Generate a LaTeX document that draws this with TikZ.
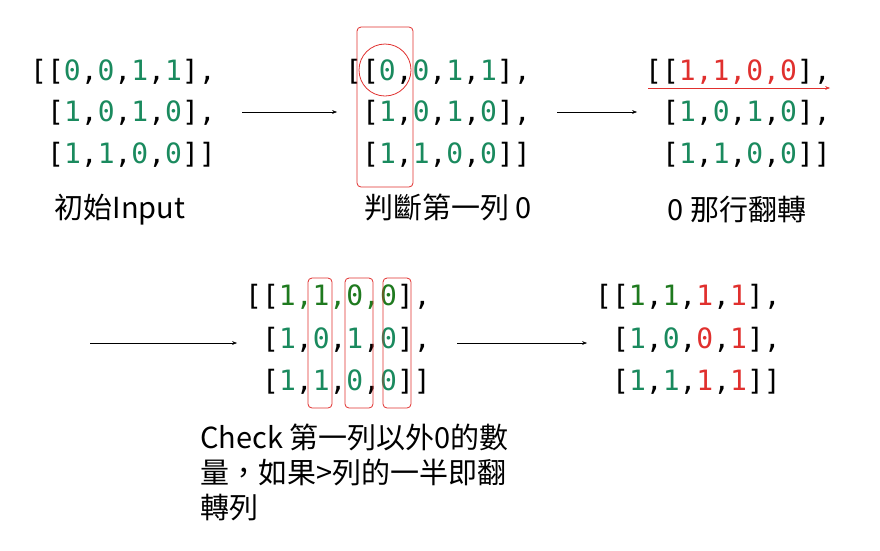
\documentclass[tikz,border=0pt]{standalone}
\usepackage{fontspec}
\setmainfont{Noto Sans CJK TC}
\newfontfamily\matfont{DejaVu Sans Mono}
\usetikzlibrary{positioning,arrows.meta}
\definecolor{tealg}{HTML}{1A8A5E}
\definecolor{darkg}{HTML}{1F7A1F}
\definecolor{redd}{HTML}{E0302E}
\newcommand{\tg}[1]{\textcolor{tealg}{#1}}
\newcommand{\dg}[1]{\textcolor{darkg}{#1}}
\newcommand{\rd}[1]{\textcolor{redd}{#1}}
\begin{document}
\begin{tikzpicture}[x=1pt,y=-1pt,
        row/.style={anchor=west, inner sep=0pt, font=\matfont\fontsize{28}{28}\selectfont},
        lab/.style={anchor=center, inner sep=0pt, font=\fontsize{29}{35}\selectfont},
        flow/.style={-Stealth, thin},
        redbox/.style={draw=redd, thick, rounded corners=4pt}
    ]
        \useasboundingbox (0,0) rectangle (880,550);
        % first matrix
        \node[row] (m1a) at (30,72)  {[[\tg{0},\tg{0},\tg{1},\tg{1}],};
        \node[row] (m1b) at (47,113) {[\tg{1},\tg{0},\tg{1},\tg{0}],};
        \node[row] (m1c) at (47,155) {[\tg{1},\tg{1},\tg{0},\tg{0}]]};
        \node[lab] (l1) at (120,210) {初始Input};
        % second matrix
        \node[row] (m2a) at (345,72)  {[[\tg{0},\tg{0},\tg{1},\tg{1}],};
        \node[row] (m2b) at (362,113) {[\tg{1},\tg{0},\tg{1},\tg{0}],};
        \node[row] (m2c) at (362,155) {[\tg{1},\tg{1},\tg{0},\tg{0}]]};
        \node[lab] (l2) at (448,207) {判斷第一列 0};
        \draw[redbox] (357,27) rectangle (413,187);
        \draw[redd, thick] (385,70) circle (26);
        % third matrix
        \node[row] (m3a) at (645,72)  {[[\rd{1,1,0,0}],};
        \node[row] (m3b) at (662,113) {[\tg{1},\tg{0},\tg{1},\tg{0}],};
        \node[row] (m3c) at (662,155) {[\tg{1},\tg{1},\tg{0},\tg{0}]]};
        \node[lab] (l3) at (737,210) {0 那行翻轉};
        \coordinate (r1) at (648,88);
        \coordinate (r2) at (830,88);
        \draw[-Stealth, redd] (r1) -- (r2);
        % fourth matrix
        \node[row] (m4a) at (245,297) {[[\dg{1,1,0,0}],};
        \node[row] (m4b) at (262,340) {[\tg{1},\tg{0},\tg{1},\tg{0}],};
        \node[row] (m4c) at (262,382) {[\tg{1},\tg{1},\tg{0},\tg{0}]]};
        \foreach \xa/\xb in {308/332, 345/373, 383/411}
            \draw[redbox] (\xa,278) rectangle (\xb,408);
        \node[lab, anchor=north west, align=left] (l4) at (200,424)
            {Check 第一列以外0的數\\量，如果>列的一半即翻\\轉列};
        % fifth matrix
        \node[row] (m5a) at (595,297) {[[\dg{1},\dg{1},\rd{1},\rd{1}],};
        \node[row] (m5b) at (612,340) {[\tg{1},\tg{0},\rd{0},\rd{1}],};
        \node[row] (m5c) at (612,382) {[\tg{1},\tg{1},\rd{1},\rd{1}]]};
        % arrows
        \coordinate (a1) at (242,112); \coordinate (b1) at (337,112);
        \coordinate (a2) at (557,112); \coordinate (b2) at (637,112);
        \coordinate (a3) at (90,343);  \coordinate (b3) at (237,343);
        \coordinate (a4) at (457,343); \coordinate (b4) at (587,343);
        \draw[flow] (a1) -- (b1);
        \draw[flow] (a2) -- (b2);
        \draw[flow] (a3) -- (b3);
        \draw[flow] (a4) -- (b4);
    \end{tikzpicture}
\end{document}
